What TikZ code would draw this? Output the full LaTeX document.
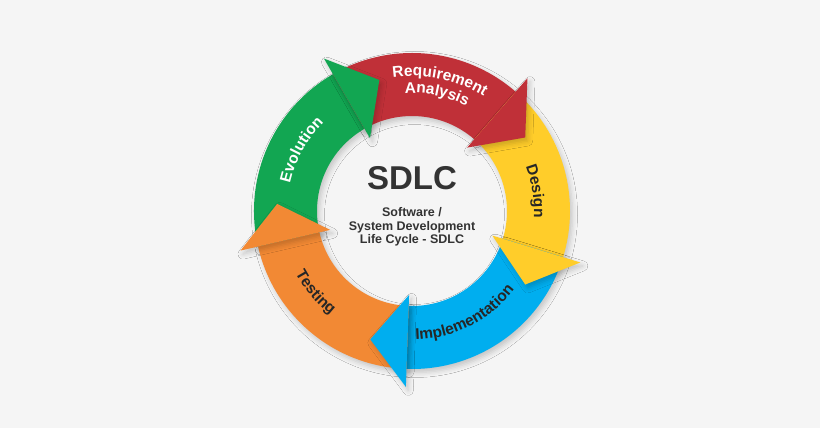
\documentclass[tikz,border=0pt]{standalone}
\usepackage{fontspec}
\setmainfont{Liberation Sans}
\usepackage{tikz}
\usetikzlibrary{decorations.text}
\usetikzlibrary{shadows.blur}
\definecolor{bg}{RGB}{245,245,245}
\definecolor{evo}{RGB}{18,166,82}
\definecolor{req}{RGB}{192,48,56}
\definecolor{des}{RGB}{255,205,42}
\definecolor{imp}{RGB}{0,174,239}
\definecolor{tst}{RGB}{242,137,52}
\definecolor{title}{RGB}{51,51,51}
\definecolor{dark}{RGB}{38,38,38}
\newcommand\wfont{\fontsize{15.5}{18}\selectfont\bfseries\color{white}}
\newcommand\dfont{\fontsize{15.5}{18}\selectfont\bfseries\color{dark}}
\tikzset{
  ring shadow/.style={blur shadow={shadow xshift=2.5pt, shadow yshift=-3.5pt, shadow blur radius=5pt, shadow opacity=20}},
  lbl/.style={decorate, decoration={text along path, text align=center, text={#1}}}
}

\begin{document}
\begin{tikzpicture}
\def\Ro{158pt}
\def\Ri{95pt}
  % Background and page size
  \fill[bg] (-412pt,-217pt) rectangle (408pt,211pt);
  \useasboundingbox (-412pt,-217pt) rectangle (408pt,211pt);

  % Draw the ring segments, clockwise
  \foreach \ta/\tb/\col in {193/120/evo, 120/49/req, 49/-17/des, -17/-92/imp, -92/-167/tst}
    \fill[\col, ring shadow] (\ta:\Ro) arc[start angle=\ta, end angle=\tb, radius=\Ro]
      -- (\tb:\Ri) arc[start angle=\tb, end angle=\ta, radius=\Ri] -- cycle;

  % Arrow heads go on top of the next segment
  \foreach \tb/\col in {120/evo, 49/req, -17/des, -92/imp, -167/tst}
    \fill[\col, ring shadow] (\tb:176pt) -- ({\tb-16}:135pt) -- (\tb:84pt) -- cycle;

  % Labels along the ring
  \path[lbl={|\wfont|Requirement}] (118:135pt) arc[start angle=118, end angle=38, radius=135pt];
  \path[lbl={|\wfont|Analysis}] (118:118pt) arc[start angle=118, end angle=38, radius=118pt];
  \path[lbl={|\wfont|Evolution}] (191:125pt) arc[start angle=191, end angle=111, radius=125pt];
  \path[lbl={|\dfont|Design}] (49:122pt) arc[start angle=49, end angle=-31, radius=122pt];
  \path[lbl={|\dfont|Implementation}] (-103:129pt) arc[start angle=-103, end angle=-23, radius=129pt];
  \path[lbl={|\dfont|Testing}] (180:132pt) arc[start angle=180, end angle=260, radius=132pt];

  % Text in the middle
  \node[text=title, font=\fontsize{33}{36}\selectfont\bfseries] (sdlc) at (0pt,33pt) {SDLC};
  \node[text=title, align=center, font=\fontsize{12.5}{13.3}\selectfont\bfseries] (desc) at (0pt,-15.8pt)
    {Software /\\System Development\\Life Cycle - SDLC};
\end{tikzpicture}
\end{document}
